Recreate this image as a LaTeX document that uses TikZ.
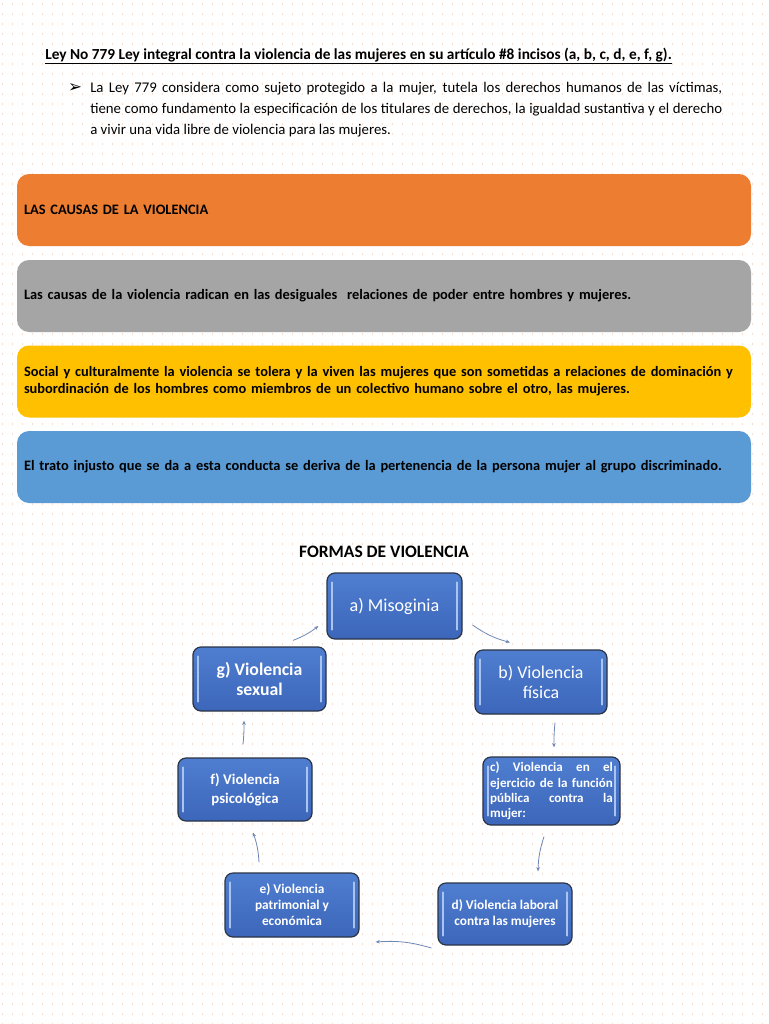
\documentclass[tikz,border=0pt]{standalone}
\usepackage{fontspec}
\setmainfont{Carlito}
\newfontfamily\dejavu{DejaVu Sans}
\usetikzlibrary{arrows.meta,calc}
\definecolor{barorange}{HTML}{ED7D31}
\definecolor{bargray}{HTML}{A5A5A5}
\definecolor{baryellow}{HTML}{FFC000}
\definecolor{barblue}{HTML}{5B9BD5}
\definecolor{nodetop}{HTML}{4F7ED1}
\definecolor{nodebot}{HTML}{3C66B9}
\definecolor{nodeedge}{HTML}{2B3445}
\definecolor{gloss}{HTML}{A9C4EE}
\definecolor{arrowcol}{HTML}{6F86B5}
\definecolor{dotcol}{HTML}{F7DDD0}
\begin{document}
\begin{tikzpicture}[x=0.75pt,y=-0.75pt,
  bar/.style={rounded corners=9pt, inner xsep=5.25pt, inner ysep=0pt,
    minimum width=550.5pt, minimum height=54pt, text width=540pt, align=left,
    font=\fontsize{10.8}{12.9}\selectfont\bfseries, text=black},
  formbox/.style={draw=nodeedge, line width=0.9pt, rounded corners=6pt,
    top color=nodetop, bottom color=nodebot, text=white, align=center,
    minimum width=100.5pt, minimum height=48pt, inner sep=2pt,
    path picture={
      \draw[gloss, line width=1.4pt, line cap=round]
        ([xshift=3.6pt,yshift=-7pt]path picture bounding box.north west) --
        ([xshift=3.6pt,yshift=7pt]path picture bounding box.south west);
      \draw[gloss, line width=1.4pt, line cap=round]
        ([xshift=-3.6pt,yshift=-7pt]path picture bounding box.north east) --
        ([xshift=-3.6pt,yshift=7pt]path picture bounding box.south east);
    }},
  arr/.style={draw=arrowcol, line width=0.6pt, -{Stealth[length=3.2pt,width=2.6pt]}},
  ]
\useasboundingbox (0,0) rectangle (768,1024);
\fill[white] (0,0) rectangle (768,1024);
% dotted background
\foreach \yy in {4,14,...,1024}{
  \draw[dotcol, line width=0.9pt, dash pattern=on 0.9pt off 6.6pt] (2,\yy) -- (768,\yy);
}

% heading
\node[anchor=west, inner sep=0pt, font=\fontsize{11.5}{13}\selectfont\bfseries] (title) at (45,56)
  {\underline{Ley No 779 Ley integral contra la violencia de las mujeres en su artículo \#8 incisos (a, b, c, d, e, f, g).}};

\node[anchor=center, inner sep=0pt, font=\dejavu\bfseries\fontsize{12.5}{13}\selectfont] (bullet) at (75,88) {➢};
\node[anchor=north west, inner sep=0pt, align=left, font=\fontsize{11.1}{15.9}\selectfont] (intro) at (90,82)
  {\makebox[474pt][s]{La Ley 779 considera como sujeto protegido a la mujer, tutela los derechos humanos de las víctimas,}\\
   \makebox[474pt][s]{tiene como fundamento la especificación de los titulares de derechos, la igualdad sustantiva y el derecho}\\
   a vivir una vida libre de violencia para las mujeres.};

% bars
\node[bar, fill=barorange] (causas) at (384,210) {LAS CAUSAS DE LA VIOLENCIA};
\node[bar, fill=bargray] (radican) at (384,296) {Las causas de la violencia radican en las desiguales \ relaciones de poder entre hombres y mujeres.};
\node[bar, fill=baryellow] (social) at (384,381.5) {Social y culturalmente la violencia se tolera y la viven las mujeres que son sometidas a relaciones de dominación y\\subordinación de los hombres como miembros de un colectivo humano sobre el otro, las mujeres.};
\node[bar, fill=barblue] (trato) at (384,467) {El trato injusto que se da a esta conducta se deriva de la pertenencia de la persona mujer al grupo discriminado.};

% formas
\node[font=\fontsize{13.1}{15}\selectfont\bfseries, inner sep=0pt] (formas) at (384,552) {FORMAS DE VIOLENCIA};

\node[formbox, minimum width=101.25pt, minimum height=49.5pt, font=\fontsize{13.6}{16}\selectfont] (a) at (394.5,606) {a) Misoginia};
\node[formbox, minimum width=99pt, font=\fontsize{13.4}{15.5}\selectfont] (b) at (541,682) {b) Violencia\\física};
\node[formbox, minimum width=102.75pt, minimum height=51pt, font=\fontsize{9.8}{11.5}\selectfont\bfseries,
      align=left, inner xsep=4pt] (c) at (551.5,791)
  {\makebox[92pt][s]{c) Violencia en el}\\
   \makebox[92pt][s]{ejercicio de la función}\\
   \makebox[92pt][s]{pública contra la}\\
   mujer:};
\node[formbox, minimum height=46.5pt, font=\fontsize{10}{12}\selectfont\bfseries] (d) at (505,914) {d) Violencia laboral\\contra las mujeres};
\node[formbox, font=\fontsize{10}{12}\selectfont\bfseries] (e) at (292,905) {e) Violencia\\patrimonial y\\económica};
\node[formbox, minimum height=47.25pt, font=\fontsize{11.1}{14}\selectfont\bfseries] (f) at (245,789.5) {f) Violencia\\psicológica};
\node[formbox, minimum width=99.75pt, font=\fontsize{13.3}{15.5}\selectfont\bfseries] (g) at (259.5,679) {g) Violencia\\sexual};

% cycle arrows
\draw[arr] ($(a.east)+(10,19)$) to[bend right=10] ($(b.north)+(-31,-7)$);
\draw[arr] ($(b.south)+(14,8)$) to[bend right=3] ($(c.north)+(2.5,-9)$);
\draw[arr] ($(c.south)+(-7.5,11)$) to[bend right=8] ($(d.north)+(33,-11)$);
\draw[arr] ($(d.west)+(-6,34)$) to[bend right=10] ($(e.east)+(16,37)$);
\draw[arr] ($(e.north)+(-33,-10)$) to[bend right=8] ($(f.south)+(8,11)$);
\draw[arr] ($(f.north)+(-2,-13)$) to[bend right=3] ($(g.south)+(-15.5,9)$);
\draw[arr] ($(g.north)+(33.5,-6)$) to[bend right=8] ($(a.west)+(-8,20)$);
\end{tikzpicture}
\end{document}
